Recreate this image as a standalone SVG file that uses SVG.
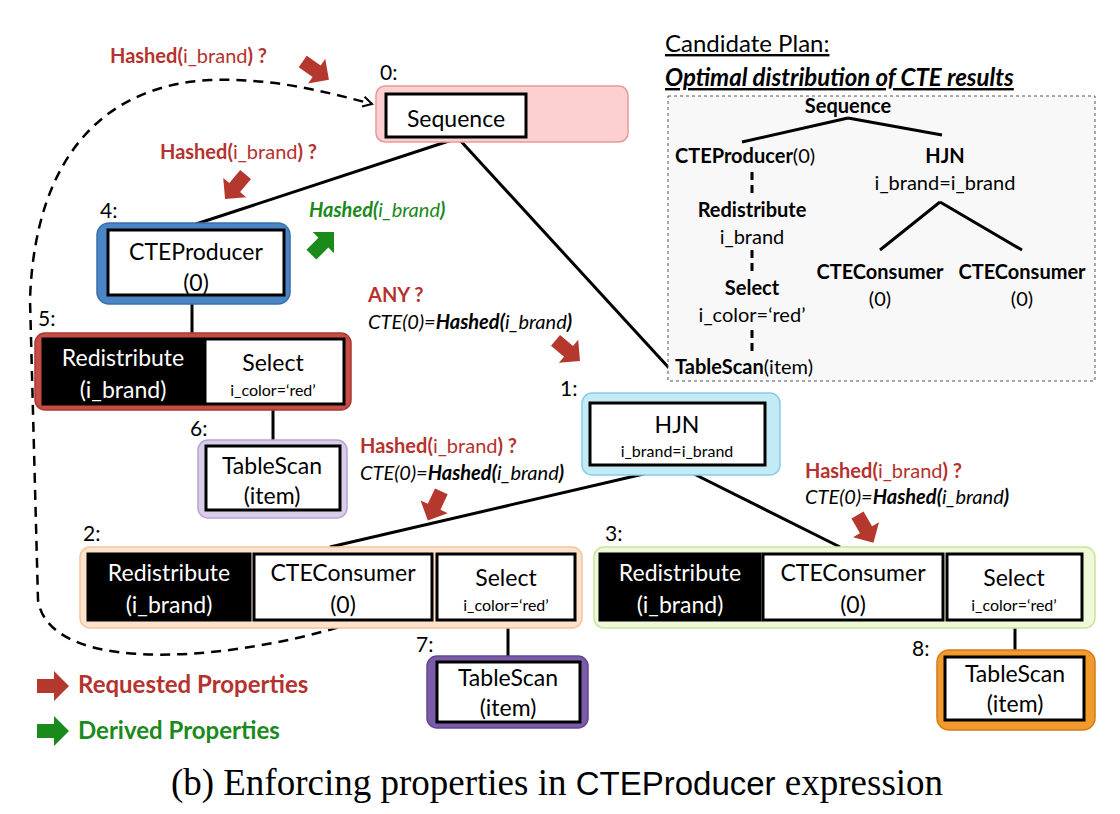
<svg xmlns="http://www.w3.org/2000/svg" width="1120" height="814" viewBox="0 0 1120 814">
<style>
text{font-family:Lato,"Liberation Sans",sans-serif;fill:#000}
.n{font-size:23px;text-anchor:middle}
.s{font-size:16px;text-anchor:middle}
.w{fill:#fff}
.lab{font-size:21px}
.req{font-size:20px;font-weight:bold;fill:#b5322e}
.rn{font-weight:normal;fill:#b5322e}
.it{font-size:20px;font-style:italic}
.b{font-weight:bold}
.inner{fill:#fff;stroke:#000;stroke-width:3}
.blk{fill:#000;stroke:#000;stroke-width:3}
.ln{stroke:#000;stroke-width:3;fill:none}
.cp{font-size:20px}
.cpc{font-size:20px;text-anchor:middle}
</style>
<defs>
<path id="arr" d="M-15,-7 L2,-7 L2,-15 L17,0 L2,15 L2,7 L-15,7 Z"/>
<marker id="chev" markerWidth="12" markerHeight="12" refX="10" refY="6" orient="auto" markerUnits="userSpaceOnUse"><path d="M1,1 L10,6 L1,11" fill="none" stroke="#000" stroke-width="2"/></marker>
</defs>
<rect width="1120" height="814" fill="#fff"/>

<g id="connectors">
<path class="ln" d="M458,138 L196,224"/>
<path class="ln" d="M458,138 L680,380"/>
<path class="ln" d="M192,304 L192,334"/>
<path class="ln" d="M273,404 L273,440"/>
<path class="ln" d="M678,466 L330,547"/>
<path class="ln" d="M678,466 L840,547"/>
<path class="ln" d="M508,620 L508,656"/>
<path class="ln" d="M1015,620 L1015,650"/>
<path d="M370,617 C250,660 50,680 38,600 L30,300 C35,150 110,85 210,80 C270,78 320,90 372,104" fill="none" stroke="#000" stroke-width="2.5" stroke-dasharray="10,7" marker-end="url(#chev)"/>
</g>

<g id="arrows">
<use href="#arr" fill="#b5382f" transform="translate(315,70) rotate(35)"/>
<use href="#arr" fill="#b5382f" transform="translate(236,186) rotate(130)"/>
<use href="#arr" fill="#1a8a1a" transform="translate(322,244) rotate(-45)"/>
<use href="#arr" fill="#b5382f" transform="translate(567,350) rotate(40)"/>
<use href="#arr" fill="#b5382f" transform="translate(435,505) rotate(115)"/>
<use href="#arr" fill="#b5382f" transform="translate(865,528) rotate(60)"/>
<use href="#arr" fill="#b5382f" transform="translate(52,686)"/>
<use href="#arr" fill="#1a8a1a" transform="translate(52,731)"/>
</g>

<g id="labels">
<text x="110" y="63" class="req">Hashed(<tspan class="rn">i_brand</tspan>) ?</text>
<text x="160" y="159" class="req">Hashed(<tspan class="rn">i_brand</tspan>) ?</text>
<text x="309" y="217" font-size="20" font-weight="bold" font-style="italic" style="fill:#1a8a1a">Hashed(<tspan font-weight="normal" style="fill:#1a8a1a">i_brand</tspan>)</text>
<text x="368" y="302" class="req">ANY ?</text>
<text x="368" y="329" class="it">CTE(0)=<tspan class="b">Hashed(</tspan>i_brand<tspan class="b">)</tspan></text>
<text x="360" y="453" class="req">Hashed(<tspan class="rn">i_brand</tspan>) ?</text>
<text x="360" y="480" class="it">CTE(0)=<tspan class="b">Hashed(</tspan>i_brand<tspan class="b">)</tspan></text>
<text x="805" y="478" class="req">Hashed(<tspan class="rn">i_brand</tspan>) ?</text>
<text x="805" y="504" class="it">CTE(0)=<tspan class="b">Hashed(</tspan>i_brand<tspan class="b">)</tspan></text>
<text x="78" y="693" font-size="24" font-weight="bold" style="fill:#b5322e">Requested Properties</text>
<text x="78" y="739" font-size="24" font-weight="bold" style="fill:#1a8a1a">Derived Properties</text>
<text x="557" y="795" font-size="37" text-anchor="middle" style="font-family:'Liberation Serif',serif">(b) Enforcing properties in <tspan style="font-family:'Liberation Sans',sans-serif" font-size="33">CTEProducer</tspan> expression</text>
</g>

<g id="n0">
<text x="380" y="80" class="lab">0:</text>
<rect x="376" y="86" width="252" height="56" rx="9" fill="#fcd0d0" stroke="#e69a9a" stroke-width="1.5"/>
<rect x="386" y="94" width="140" height="43" class="inner"/>
<text x="456" y="127" class="n">Sequence</text>
</g>
<g id="n4">
<text x="100" y="218" class="lab">4:</text>
<rect x="97" y="223" width="193" height="81" rx="12" fill="#4a86c5" stroke="#3a6fa8" stroke-width="1.5"/>
<rect x="108" y="230" width="176" height="65" class="inner"/>
<text x="196" y="260" class="n">CTEProducer</text>
<text x="196" y="291" class="n">(0)</text>
</g>
<g id="n5">
<text x="38" y="326" class="lab">5:</text>
<rect x="35" y="333" width="316" height="77" rx="10" fill="#c94c44" stroke="#a83a33" stroke-width="1.5"/>
<rect x="43" y="339" width="160" height="65" class="blk"/>
<rect x="205" y="339" width="139" height="65" class="inner"/>
<text x="123" y="366" class="n w">Redistribute</text>
<text x="123" y="398" class="n w">(i_brand)</text>
<text x="273" y="371" class="n">Select</text>
<text x="273" y="396" class="s">i_color=‘red’</text>
</g>
<g id="n6">
<text x="190" y="436" class="lab">6:</text>
<rect x="198" y="440" width="149" height="78" rx="10" fill="#d9cdea" stroke="#b6a4d4" stroke-width="1.5"/>
<rect x="206" y="446" width="134" height="64" class="inner"/>
<text x="272" y="474" class="n">TableScan</text>
<text x="272" y="504" class="n">(item)</text>
</g>
<g id="n1">
<text x="560" y="396" class="lab">1:</text>
<rect x="582" y="393" width="198" height="82" rx="10" fill="#c2ebf6" stroke="#88cde6" stroke-width="1.5"/>
<rect x="590" y="403" width="175" height="62" class="inner"/>
<text x="677" y="433" class="n">HJN</text>
<text x="677" y="457" class="s" font-size="17">i_brand=i_brand</text>
</g>
<g id="n2">
<text x="83" y="541" class="lab">2:</text>
<rect x="80" y="547" width="502" height="81" rx="10" fill="#fde3cd" stroke="#f4c49c" stroke-width="1.5"/>
<rect x="88" y="554" width="162" height="66" class="blk"/>
<rect x="254" y="554" width="178" height="66" class="inner"/>
<rect x="437" y="554" width="138" height="66" class="inner"/>
<text x="169" y="581" class="n w">Redistribute</text>
<text x="169" y="613" class="n w">(i_brand)</text>
<text x="343" y="581" class="n">CTEConsumer</text>
<text x="343" y="613" class="n">(0)</text>
<text x="506" y="586" class="n">Select</text>
<text x="506" y="611" class="s">i_color=‘red’</text>
</g>
<g id="n3">
<text x="605" y="541" class="lab">3:</text>
<rect x="594" y="547" width="501" height="81" rx="10" fill="#eef9d8" stroke="#c8e4a0" stroke-width="1.5"/>
<rect x="600" y="554" width="160" height="66" class="blk"/>
<rect x="763" y="554" width="180" height="66" class="inner"/>
<rect x="947" y="554" width="135" height="66" class="inner"/>
<text x="680" y="581" class="n w">Redistribute</text>
<text x="680" y="613" class="n w">(i_brand)</text>
<text x="853" y="581" class="n">CTEConsumer</text>
<text x="853" y="613" class="n">(0)</text>
<text x="1014" y="586" class="n">Select</text>
<text x="1014" y="611" class="s">i_color=‘red’</text>
</g>
<g id="n7">
<text x="416" y="652" class="lab">7:</text>
<rect x="427" y="656" width="161" height="72" rx="10" fill="#7b5ca8" stroke="#634590" stroke-width="1.5"/>
<rect x="437" y="662" width="143" height="60" class="inner"/>
<text x="508" y="686" class="n">TableScan</text>
<text x="508" y="716" class="n">(item)</text>
</g>
<g id="n8">
<text x="912" y="656" class="lab">8:</text>
<rect x="937" y="650" width="158" height="80" rx="12" fill="#f29a2e" stroke="#d07e1a" stroke-width="1.5"/>
<rect x="945" y="657" width="139" height="63" class="inner"/>
<text x="1015" y="682" class="n">TableScan</text>
<text x="1015" y="712" class="n">(item)</text>
</g>

<g id="candidate">
<text x="665" y="52" font-size="24" text-decoration="underline">Candidate Plan:</text>
<text x="665" y="86" font-size="24" font-weight="bold" font-style="italic" text-decoration="underline">Optimal distribution of CTE results</text>
<rect x="668" y="96" width="427" height="285" fill="#f8f8f8" stroke="#555" stroke-width="1" stroke-dasharray="3,3"/>
<path class="ln" d="M848,118 L742,142 M848,118 L942,135 M940,202 L880,250 M940,202 L1022,250" stroke-width="2.5"/>
<path d="M752,172 L752,198 M752,250 L752,276 M752,330 L752,352" stroke="#000" stroke-width="3" stroke-dasharray="8,5"/>
<text x="848" y="113" class="cpc b">Sequence</text>
<text x="675" y="163" class="cp"><tspan class="b">CTEProducer</tspan>(0)</text>
<text x="945" y="163" class="cpc b">HJN</text>
<text x="945" y="190" class="cpc">i_brand=i_brand</text>
<text x="752" y="217" class="cpc b">Redistribute</text>
<text x="752" y="244" class="cpc">i_brand</text>
<text x="752" y="295" class="cpc b">Select</text>
<text x="752" y="322" class="cpc">i_color=‘red’</text>
<text x="675" y="374" class="cp"><tspan class="b">TableScan</tspan>(item)</text>
<text x="880" y="279" class="cpc b">CTEConsumer</text>
<text x="1022" y="279" class="cpc b">CTEConsumer</text>
<text x="880" y="306" class="cpc">(0)</text>
<text x="1022" y="306" class="cpc">(0)</text>
</g>
</svg>
